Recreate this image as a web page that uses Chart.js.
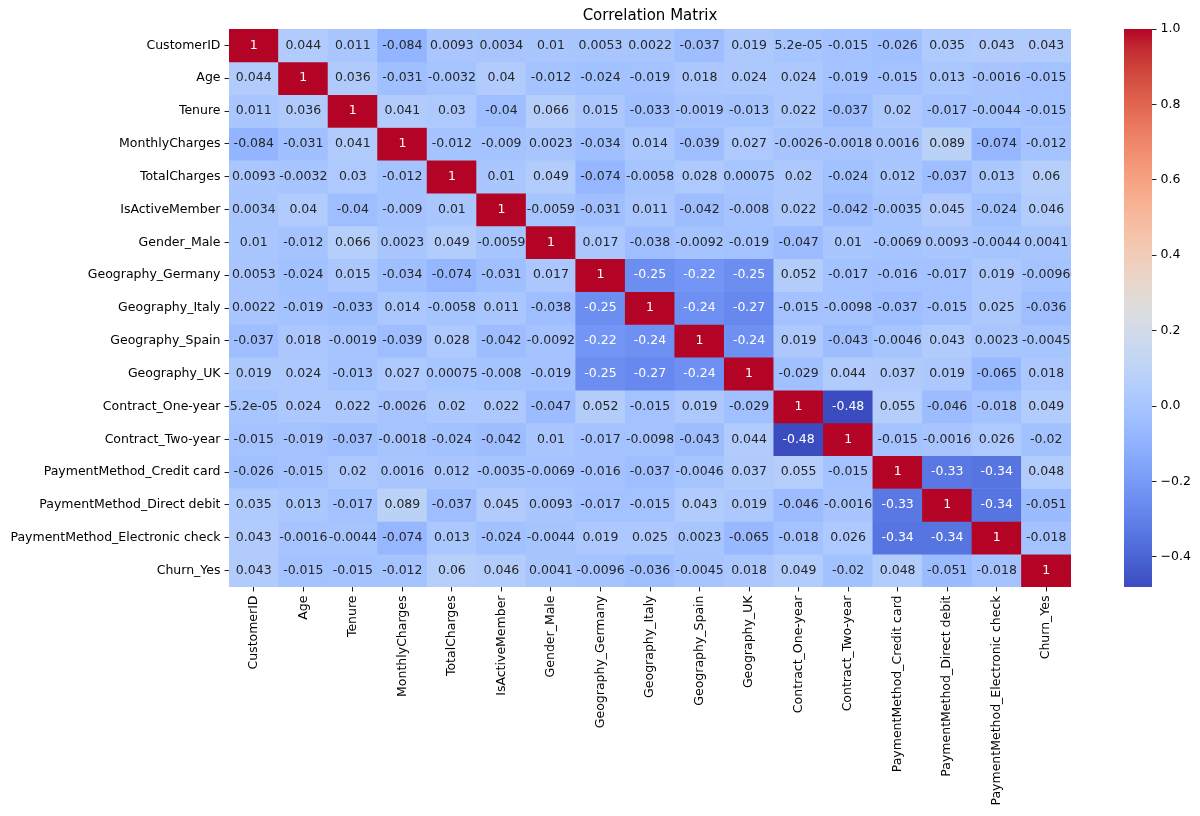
<!DOCTYPE html>
<html>
<head>
<meta charset="utf-8">
<script src="https://cdn.jsdelivr.net/npm/chart.js@4"></script>
<style>
	body { margin: 0; background: #fff; }
	#wrap { position: relative; width: 1200px; height: 816px; }
	#heat { position: absolute; left: 0; top: 0; }
	#cbar { position: absolute; left: 1080px; top: 0; }
</style>
</head>
<body>
<div id="wrap">
	<canvas id="heat" width="1200" height="816"></canvas>
	<canvas id="cbar" width="120" height="816"></canvas>
</div>
<script>
// variables (rows and columns of the matrix)
const names = [
	'CustomerID', 'Age', 'Tenure', 'MonthlyCharges', 'TotalCharges', 'IsActiveMember',
	'Gender_Male', 'Geography_Germany', 'Geography_Italy', 'Geography_Spain', 'Geography_UK',
	'Contract_One-year', 'Contract_Two-year', 'PaymentMethod_Credit card',
	'PaymentMethod_Direct debit', 'PaymentMethod_Electronic check', 'Churn_Yes'
];

// one row per variable
const rowCustomerID   = [1, 0.044, 0.011, -0.084, 0.0093, 0.0034, 0.01, 0.0053, 0.0022, -0.037, 0.019, 5.2e-05, -0.015, -0.026, 0.035, 0.043, 0.043];
const rowAge          = [0.044, 1, 0.036, -0.031, -0.0032, 0.04, -0.012, -0.024, -0.019, 0.018, 0.024, 0.024, -0.019, -0.015, 0.013, -0.0016, -0.015];
const rowTenure       = [0.011, 0.036, 1, 0.041, 0.03, -0.04, 0.066, 0.015, -0.033, -0.0019, -0.013, 0.022, -0.037, 0.02, -0.017, -0.0044, -0.015];
const rowMonthly      = [-0.084, -0.031, 0.041, 1, -0.012, -0.009, 0.0023, -0.034, 0.014, -0.039, 0.027, -0.0026, -0.0018, 0.0016, 0.089, -0.074, -0.012];
const rowTotal        = [0.0093, -0.0032, 0.03, -0.012, 1, 0.01, 0.049, -0.074, -0.0058, 0.028, 0.00075, 0.02, -0.024, 0.012, -0.037, 0.013, 0.06];
const rowActive       = [0.0034, 0.04, -0.04, -0.009, 0.01, 1, -0.0059, -0.031, 0.011, -0.042, -0.008, 0.022, -0.042, -0.0035, 0.045, -0.024, 0.046];
const rowMale         = [0.01, -0.012, 0.066, 0.0023, 0.049, -0.0059, 1, 0.017, -0.038, -0.0092, -0.019, -0.047, 0.01, -0.0069, 0.0093, -0.0044, 0.0041];
const rowGermany      = [0.0053, -0.024, 0.015, -0.034, -0.074, -0.031, 0.017, 1, -0.25, -0.22, -0.25, 0.052, -0.017, -0.016, -0.017, 0.019, -0.0096];
const rowItaly        = [0.0022, -0.019, -0.033, 0.014, -0.0058, 0.011, -0.038, -0.25, 1, -0.24, -0.27, -0.015, -0.0098, -0.037, -0.015, 0.025, -0.036];
const rowSpain        = [-0.037, 0.018, -0.0019, -0.039, 0.028, -0.042, -0.0092, -0.22, -0.24, 1, -0.24, 0.019, -0.043, -0.0046, 0.043, 0.0023, -0.0045];
const rowUK           = [0.019, 0.024, -0.013, 0.027, 0.00075, -0.008, -0.019, -0.25, -0.27, -0.24, 1, -0.029, 0.044, 0.037, 0.019, -0.065, 0.018];
const rowOneYear      = [5.2e-05, 0.024, 0.022, -0.0026, 0.02, 0.022, -0.047, 0.052, -0.015, 0.019, -0.029, 1, -0.48, 0.055, -0.046, -0.018, 0.049];
const rowTwoYear      = [-0.015, -0.019, -0.037, -0.0018, -0.024, -0.042, 0.01, -0.017, -0.0098, -0.043, 0.044, -0.48, 1, -0.015, -0.0016, 0.026, -0.02];
const rowCreditCard   = [-0.026, -0.015, 0.02, 0.0016, 0.012, -0.0035, -0.0069, -0.016, -0.037, -0.0046, 0.037, 0.055, -0.015, 1, -0.33, -0.34, 0.048];
const rowDirectDebit  = [0.035, 0.013, -0.017, 0.089, -0.037, 0.045, 0.0093, -0.017, -0.015, 0.043, 0.019, -0.046, -0.0016, -0.33, 1, -0.34, -0.051];
const rowElectronic   = [0.043, -0.0016, -0.0044, -0.074, 0.013, -0.024, -0.0044, 0.019, 0.025, 0.0023, -0.065, -0.018, 0.026, -0.34, -0.34, 1, -0.018];
const rowChurn        = [0.043, -0.015, -0.015, -0.012, 0.06, 0.046, 0.0041, -0.0096, -0.036, -0.0045, 0.018, 0.049, -0.02, 0.048, -0.051, -0.018, 1];

const colorbarTicks = [-0.4, -0.2, 0.0, 0.2, 0.4, 0.6, 0.8, 1.0];

const matrix = [rowCustomerID, rowAge, rowTenure, rowMonthly, rowTotal, rowActive, rowMale,
	rowGermany, rowItaly, rowSpain, rowUK, rowOneYear, rowTwoYear, rowCreditCard,
	rowDirectDebit, rowElectronic, rowChurn];

const vmin = Math.min(...matrix.flat());
const vmax = Math.max(...matrix.flat());

const FONT = 'DejaVu Sans';

// coolwarm colormap samples
const coolwarm = [
	[59,76,192],[68,90,204],[77,104,215],[87,117,225],[98,130,234],[108,142,241],[119,154,247],[130,165,251],
	[141,176,254],[152,185,255],[163,194,255],[174,201,253],[184,208,249],[194,213,244],[204,217,238],[213,219,230],
	[221,221,221],[229,216,209],[236,211,197],[241,204,184],[245,196,172],[247,187,159],[247,177,147],[247,166,134],
	[244,154,123],[241,141,111],[236,127,99],[229,112,88],[222,96,77],[213,80,66],[203,62,56],[192,40,47],[180,4,38]
];

var cmap = (t) => {
	t = Math.max(0, Math.min(1, t));
	var p = t * (coolwarm.length - 1);
	var i = Math.min(Math.floor(p), coolwarm.length - 2);
	var f = p - i;
	return coolwarm[i].map((c, k) => c + (coolwarm[i + 1][k] - c) * f);
}

var rgbStr = (c) => `rgb(${c.map(Math.round).join(',')})`;
var cellRgb = (v) => cmap((v - vmin) / (vmax - vmin));

// seaborn style: light text on dark cells
var luminance = (c) => {
	var lin = c.map(x => { x = x / 255; return x <= 0.03928 ? x / 12.92 : Math.pow((x + 0.055) / 1.055, 2.4); });
	return 0.2126 * lin[0] + 0.7152 * lin[1] + 0.0722 * lin[2];
}

// like python's .2g
var fmt = (v) => {
	if (v !== 0 && Math.abs(v) < 1e-4) {
		var parts = v.toExponential(1).split('e');
		var e = parseInt(parts[1], 10);
		return parts[0] + 'e' + (e < 0 ? '-' : '+') + String(Math.abs(e)).padStart(2, '0');
	}
	return String(Number(v.toPrecision(2)));
}

const annotate = {
	id: 'annotate',
	afterDatasetsDraw(chart) {
		const { ctx, scales: { x, y }, chartArea } = chart;
		ctx.save();
		ctx.font = `12.5px "${FONT}"`;
		ctx.textAlign = 'center';
		ctx.textBaseline = 'middle';
		matrix.forEach((row, r) => {
			row.forEach((v, c) => {
				ctx.fillStyle = luminance(cellRgb(v)) > 0.408 ? '#262626' : '#ffffff';
				ctx.fillText(fmt(v), x.getPixelForValue(c), y.getPixelForValue(r + 0.5));
			});
		});
		// title
		ctx.fillStyle = '#000';
		ctx.font = `15px "${FONT}"`;
		ctx.fillText('Correlation Matrix', (chartArea.left + chartArea.right) / 2, 16);
		ctx.restore();
	}
};

new Chart(document.getElementById('heat'), {
	type: 'bar',
	data: {
		labels: names,
		datasets: matrix.map((row, r) => ({
			label: names[r],
			data: row.map(() => [r, r + 1]),
			backgroundColor: row.map(v => rgbStr(cellRgb(v))),
			borderWidth: 0,
			barPercentage: 1,
			categoryPercentage: 1,
			grouped: false
		}))
	},
	options: {
		responsive: false,
		animation: false,
		layout: { padding: { left: 0, top: 29, right: 129, bottom: 0 } },
		plugins: { legend: { display: false }, tooltip: { enabled: false } },
		scales: {
			x: {
				type: 'category',
				border: { display: false },
				grid: { offset: false, drawOnChartArea: false, tickLength: 4.5, color: '#222', lineWidth: 1 },
				ticks: { autoSkip: false, minRotation: 90, maxRotation: 90, padding: 4, color: '#000', font: { family: FONT, size: 12.5 } },
				afterFit: (axis) => { axis.height = 229; }
			},
			y: {
				type: 'linear',
				min: 0,
				max: names.length,
				reverse: true,
				border: { display: false },
				grid: { drawOnChartArea: false, tickLength: 4.5, color: '#222', lineWidth: 1 },
				ticks: {
					padding: 4, color: '#000', font: { family: FONT, size: 12.5 },
					callback: (v) => names[Math.floor(v)]
				},
				afterBuildTicks: (axis) => { axis.ticks = names.map((n, i) => ({ value: i + 0.5 })); },
				afterFit: (axis) => { axis.width = 229; }
			}
		}
	},
	plugins: [annotate]
});

// colour bar
new Chart(document.getElementById('cbar'), {
	type: 'bar',
	data: {
		labels: [''],
		datasets: [{
			data: [[vmin, vmax]],
			backgroundColor: (c) => {
				const chart = c.chart;
				if (!chart.chartArea) return '#ccc';
				const y = chart.scales.y;
				const g = chart.ctx.createLinearGradient(0, y.getPixelForValue(vmin), 0, y.getPixelForValue(vmax));
				coolwarm.forEach((col, i) => g.addColorStop(i / (coolwarm.length - 1), rgbStr(col)));
				return g;
			},
			borderWidth: 0,
			barPercentage: 1,
			categoryPercentage: 1
		}]
	},
	options: {
		responsive: false,
		animation: false,
		layout: { padding: { left: 44, top: 29, right: 0, bottom: 229 } },
		plugins: { legend: { display: false }, tooltip: { enabled: false } },
		scales: {
			x: { display: false },
			y: {
				type: 'linear',
				position: 'right',
				min: vmin,
				max: vmax,
				border: { display: false },
				grid: { drawOnChartArea: false, tickLength: 4.5, color: '#222', lineWidth: 1 },
				ticks: {
					padding: 4, color: '#000', font: { family: FONT, size: 12.5 },
					callback: (v) => v.toFixed(1).replace('-', '\u2212')
				},
				afterBuildTicks: (axis) => { axis.ticks = colorbarTicks.map(v => ({ value: v })); },
				afterFit: (axis) => { axis.width = 48; }
			}
		}
	}
});
</script>
</body>
</html>
